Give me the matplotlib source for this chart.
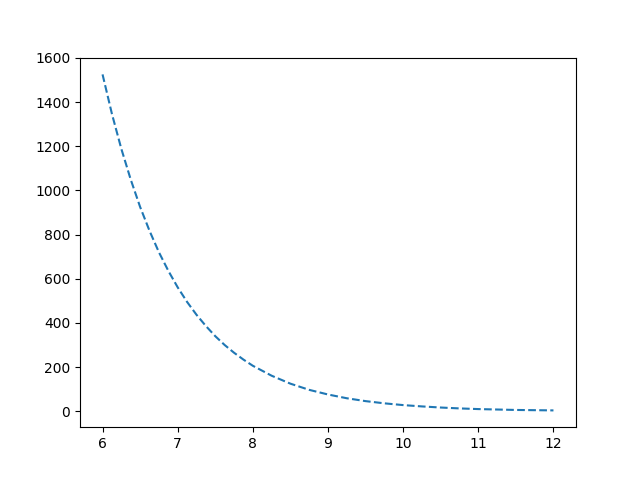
import matplotlib
matplotlib.use("Agg")
import matplotlib.pyplot as plt

# values (denser where it is steep)
x_vals = [6.0, 6.125, 6.25, 6.375, 6.5, 6.625, 6.75, 6.875, 7.0, 7.125,
          7.25, 7.375, 7.5, 7.625, 7.75, 7.875, 8.0, 8.25, 8.5, 8.75,
          9.0, 9.25, 9.5, 9.75, 10.0, 10.25, 10.5, 10.75, 11.0, 11.25, 11.5,
          11.75, 12.0]
y_vals = [1525, 1346, 1188, 1049, 925, 817, 720, 636, 561, 495,
          437, 386, 340, 300, 265, 234, 206, 161, 125, 97,
          76, 59, 46, 36, 28, 22, 17, 13, 10, 8, 6,
          5, 4]

fig, ax = plt.subplots(figsize=(6.4, 4.8), dpi=100)
ax.plot(x_vals, y_vals, linestyle="--", color="#1f77b4")
fig.savefig("out.png", dpi=100)
